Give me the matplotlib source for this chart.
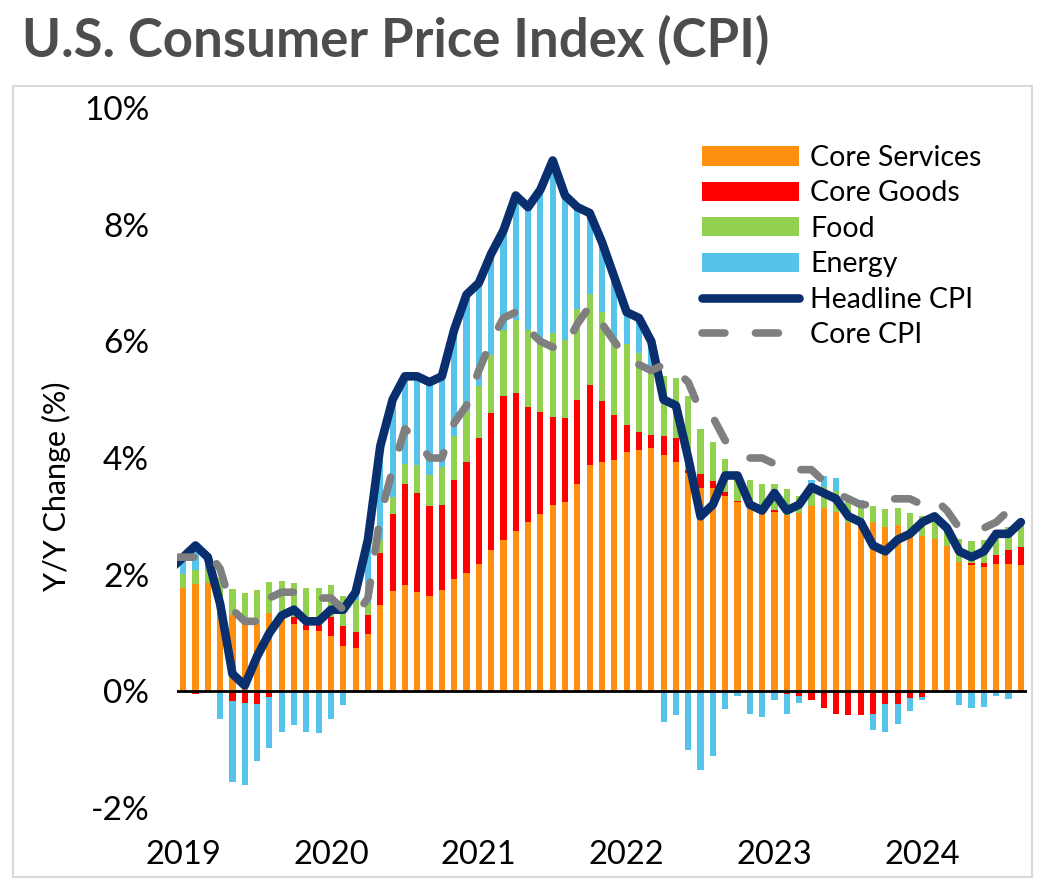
import matplotlib
matplotlib.use('Agg')
import matplotlib.pyplot as plt
from matplotlib.patches import Rectangle
import numpy as np

plt.rcParams['font.family'] = ['Lato', 'DejaVu Sans']

# monthly contributions (pp), first bar = month 0
core_services = [1.78, 1.84, 1.86, 1.62, 1.31, 1.16, 1.15, 1.35, 1.25, 1.15, 1.05, 1.03,
                 0.95, 0.77, 0.75, 0.98, 1.48, 1.72, 1.82, 1.71, 1.63, 1.74, 1.92, 2.03,
                 2.18, 2.42, 2.59, 2.75, 2.91, 3.04, 3.20, 3.25, 3.56, 3.88, 3.94, 3.97,
                 4.10, 4.14, 4.17, 4.06, 3.93, 3.74, 3.48, 3.48, 3.35, 3.25, 3.25, 3.08,
                 3.08, 3.02, 3.05, 3.17, 3.14, 3.08, 2.88, 2.92, 2.91, 2.82, 2.85, 2.73,
                 2.67, 2.61, 2.49, 2.22, 2.16, 2.14, 2.18, 2.19, 2.16]
core_goods = [0.0, -0.05, 0.0, 0.0, -0.17, -0.20, -0.22, -0.10, 0.0, 0.13, 0.08, 0.10,
              0.33, 0.35, 0.27, 0.33, 0.89, 1.32, 1.74, 1.69, 1.55, 1.46, 1.71, 1.90,
              2.16, 2.36, 2.48, 2.37, 1.97, 1.75, 1.50, 1.43, 1.44, 1.37, 1.03, 0.76,
              0.46, 0.31, 0.23, 0.32, 0.42, 0.05, 0.25, 0.13, 0.06, 0.02, 0.0, 0.03,
              0.03, -0.05, -0.08, -0.15, -0.29, -0.38, -0.40, -0.41, -0.38, -0.21, -0.21, -0.11,
              -0.10, 0.0, 0.0, 0.0, 0.04, 0.06, 0.15, 0.23, 0.32]
food = [0.24, 0.24, 0.22, 0.32, 0.44, 0.52, 0.59, 0.53, 0.65, 0.58, 0.65, 0.65,
        0.54, 0.51, 0.54, 0.20, 0.23, 0.30, 0.34, 0.48, 0.53, 0.65, 0.74, 0.87,
        0.89, 0.99, 1.13, 1.24, 1.31, 1.23, 1.44, 1.34, 1.56, 1.57, 1.53, 1.31,
        1.40, 1.35, 1.13, 1.02, 1.03, 1.27, 0.77, 0.66, 0.57, 0.45, 0.38, 0.45,
        0.45, 0.45, 0.30, 0.33, 0.36, 0.35, 0.46, 0.29, 0.27, 0.31, 0.29, 0.33,
        0.34, 0.39, 0.29, 0.39, 0.37, 0.39, 0.43, 0.40, 0.34]
energy = [0.28, 0.45, 0.22, -0.47, -1.38, -1.40, -0.98, -0.87, -0.70, -0.58, -0.70, -0.71,
          -0.47, -0.24, 0.14, 1.05, 1.55, 1.66, 1.50, 1.55, 1.59, 1.55, 1.83, 2.00,
          1.77, 1.73, 1.70, 2.14, 2.11, 2.58, 2.96, 2.48, 1.74, 1.38, 1.20, 1.06,
          0.54, 0.60, 0.47, -0.52, -0.40, -1.00, -1.35, -1.10, -0.30, -0.08, -0.38, -0.44,
          -0.15, -0.33, -0.12, 0.13, 0.19, 0.22, 0.0, 0.07, -0.29, -0.49, -0.35, -0.23,
          -0.04, 0.0, 0.0, -0.24, -0.28, -0.26, -0.08, -0.13, 0.08]

# Y/Y %, starting one month before the first bar
headline = [2.1, 2.3,
            2.5, 2.3, 1.5, 0.3, 0.1, 0.6, 1.0, 1.3, 1.4, 1.2, 1.2, 1.4,
            1.4, 1.7, 2.6, 4.2, 5.0, 5.4, 5.4, 5.3, 5.4, 6.2, 6.8, 7.0,
            7.5, 7.9, 8.5, 8.3, 8.6, 9.1, 8.5, 8.3, 8.2, 7.7, 7.1, 6.5,
            6.4, 6.0, 5.0, 4.9, 4.0, 3.0, 3.2, 3.7, 3.7, 3.2, 3.1, 3.4,
            3.1, 3.2, 3.5, 3.4, 3.3, 3.0, 2.9, 2.5, 2.4, 2.6, 2.7, 2.9,
            3.0, 2.8, 2.4, 2.3, 2.4, 2.7, 2.7, 2.9]
core = [2.3, 2.3,
        2.3, 2.4, 2.1, 1.4, 1.2, 1.2, 1.6, 1.7, 1.7, 1.6, 1.6, 1.6,
        1.4, 1.3, 1.6, 3.0, 3.8, 4.5, 4.3, 4.0, 4.0, 4.6, 4.9, 5.5,
        6.0, 6.4, 6.5, 6.2, 6.0, 5.9, 5.9, 6.3, 6.6, 6.3, 6.0, 5.7,
        5.6, 5.5, 5.6, 5.5, 5.3, 4.8, 4.7, 4.3, 4.1, 4.0, 4.0, 3.9,
        3.9, 3.8, 3.8, 3.6, 3.4, 3.3, 3.2, 3.2, 3.3, 3.3, 3.3, 3.2,
        3.3, 3.1, 2.8, 2.8, 2.8, 2.9, 3.1, 3.1]

year_labels = ['2019', '2020', '2021', '2022', '2023', '2024']

fig = plt.figure(figsize=(10.47, 8.86), dpi=100)
ax = fig.add_axes([177 / 1047, 78 / 886, 850 / 1047, 700 / 886])

x = np.arange(len(core_services))
series = [(core_services, '#FF8F0F', 'Core Services'),
          (core_goods, '#FF0000', 'Core Goods'),
          (food, '#92D050', 'Food'),
          (energy, '#56C4EA', 'Energy')]
pos_base = np.zeros(len(x))
neg_base = np.zeros(len(x))
for vals, col, lab in series:
    v = np.array(vals)
    bottom = np.where(v >= 0, pos_base, neg_base)
    ax.bar(x, v, 0.5, bottom=bottom, color=col, label=lab, zorder=2)
    pos_base = pos_base + np.clip(v, 0, None)
    neg_base = neg_base + np.clip(v, None, 0)

ax.axhline(0, color='black', lw=2, zorder=3)

xl = np.arange(len(headline)) - 1
ax.plot(xl, headline, color='#0A2F6E', lw=6.2, solid_joinstyle='round',
        solid_capstyle='round', zorder=4, label='Headline CPI')
ax.plot(xl, core, color='#7F7F7F', lw=5.5, dashes=(3.0, 4.0), dash_capstyle='round',
        zorder=5, label='Core CPI')

ax.set_xlim(-0.5, 68.5)
ax.set_ylim(-2, 10)
ax.set_yticks(np.arange(-2, 11, 2))
ax.set_yticklabels([f'{t}%' for t in range(-2, 11, 2)])
ax.set_xticks(np.arange(0, 61, 12))
ax.set_xticklabels(year_labels)
ax.tick_params(axis='y', length=0, pad=20, labelsize=24)
ax.tick_params(axis='x', length=0, pad=23, labelsize=23.5)
for s in ax.spines.values():
    s.set_visible(False)
ax.set_ylabel('Y/Y Change (%)', fontsize=22)
ax.yaxis.set_label_coords(-0.125, 0.46)

handles, labels = ax.get_legend_handles_labels()
order = [2, 3, 4, 5, 0, 1]
ax.legend([handles[i] for i in order], [labels[i] for i in order], loc='upper left',
          bbox_to_anchor=(702 / 1047, 1 - 145 / 886), bbox_transform=fig.transFigure,
          frameon=False, fontsize=20.5, handlelength=3.4, handleheight=0.65,
          handletextpad=0.4, labelspacing=0.33, borderpad=0, borderaxespad=0)

fig.text(22 / 1047, 1 - 40 / 886, 'U.S. Consumer Price Index (CPI)', fontsize=38,
         fontweight='bold', color='#4D4D4D', ha='left', va='center')
fig.patches.append(Rectangle((13 / 1047, 9 / 886), 1019 / 1047, 791 / 886,
                             transform=fig.transFigure, fill=False,
                             edgecolor='#D9D9D9', lw=1.5))

fig.savefig('out.png', dpi=100)
